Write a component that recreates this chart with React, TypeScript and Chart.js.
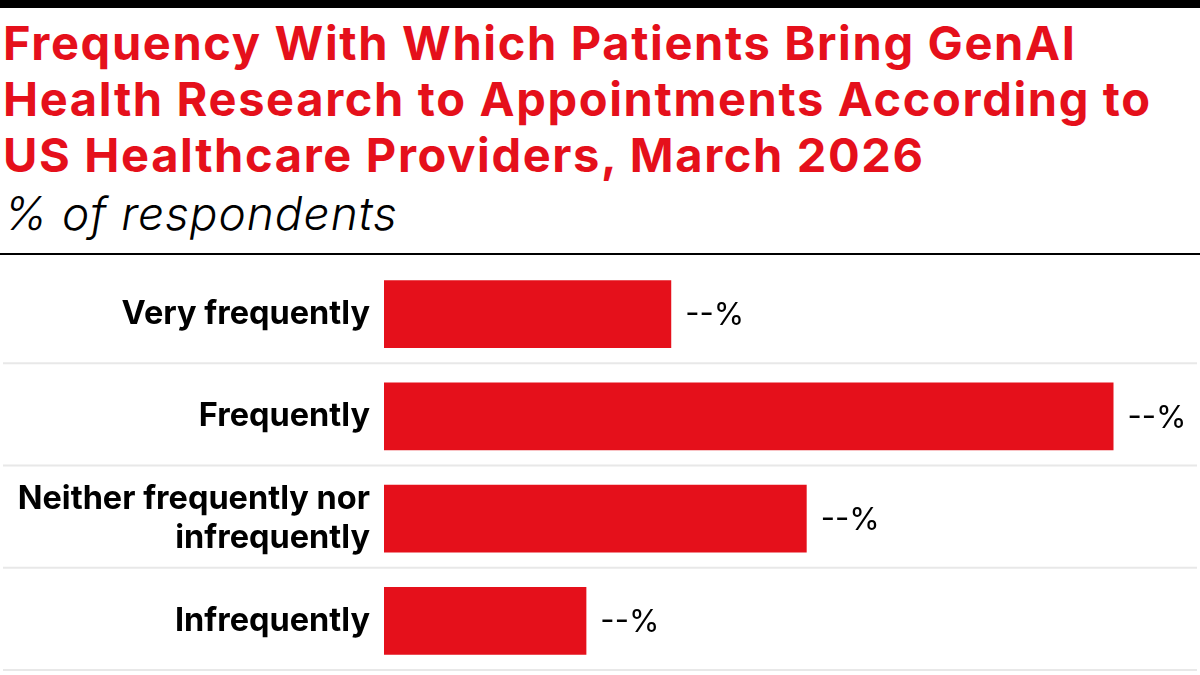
import React, { useEffect, useRef } from "react";
import { Chart, registerables } from "chart.js";
Chart.register(...registerables);

const categories: (string | string[])[] = [
  "Very frequently",
  "Frequently",
  ["Neither frequently nor", "infrequently"],
  "Infrequently",
];
const values = [17.6, 44.7, 25.9, 12.4];
const valueLabels = ["--%", "--%", "--%", "--%"];
const xMax = 50;

const titleLines = [
  "Frequency With Which Patients Bring GenAI",
  "Health Research to Appointments According to",
  "US Healthcare Providers, March 2026",
];
const subtitle = "% of respondents";

const RED = "#e5101b";
const FONT = "Inter, 'Noto Sans', sans-serif";

export default function App() {
  const ref = useRef<HTMLCanvasElement>(null);
  useEffect(() => {
    document.body.style.margin = "0";
    if (!ref.current) return;
    const sepPlugin = {
      id: "separators",
      afterDraw(chart: any) {
        const { ctx } = chart;
        const y = chart.scales.y;
        const n = categories.length;
        ctx.save();
        ctx.strokeStyle = "#e8e8e8";
        ctx.lineWidth = 2;
        for (let i = 0; i < n; i++) {
          const c = y.getPixelForValue(i);
          const next = i < n - 1 ? y.getPixelForValue(i + 1) : c + (c - y.getPixelForValue(i - 1));
          const yy = (c + next) / 2 - 2;
          ctx.beginPath();
          ctx.moveTo(3, yy);
          ctx.lineTo(1197, yy);
          ctx.stroke();
        }
        ctx.restore();
      },
    };
    const labelPlugin = {
      id: "valueLabels",
      afterDatasetsDraw(chart: any) {
        const { ctx } = chart;
        const meta = chart.getDatasetMeta(0);
        ctx.save();
        ctx.fillStyle = "#000";
        ctx.font = `400 31px ${FONT}`;
        ctx.textAlign = "left";
        ctx.textBaseline = "middle";
        meta.data.forEach((bar: any, i: number) => {
          ctx.fillText(valueLabels[i], bar.x + 14, bar.y + 2);
        });
        ctx.restore();
      },
    };
    const chart = new Chart(ref.current, {
      type: "bar",
      data: {
        labels: categories,
        datasets: [
          {
            data: values,
            backgroundColor: RED,
            borderWidth: 0,
            barPercentage: 0.665,
            categoryPercentage: 1,
          },
        ],
      },
      options: {
        indexAxis: "y",
        animation: false,
        responsive: false,
        maintainAspectRatio: false,
        layout: { padding: { top: 7, bottom: 3, left: 0, right: 0 } },
        plugins: { legend: { display: false }, tooltip: { enabled: false } },
        scales: {
          x: { display: false, min: 0, max: xMax },
          y: {
            grid: { display: false, drawTicks: false },
            border: { display: false },
            ticks: {
              color: "#000",
              padding: 14,
              font: { family: FONT, size: 32.5, weight: "bold", lineHeight: 1.22 },
            },
            afterFit: (scale: any) => {
              scale.width = 384;
              scale.paddingTop = 0;
              scale.paddingBottom = 0;
            },
          },
        },
      },
      plugins: [sepPlugin, labelPlugin],
    });
    return () => chart.destroy();
  }, []);

  return (
    <div style={{ position: "relative", width: 1200, height: 675, background: "#fff", overflow: "hidden" }}>
      <div style={{ position: "absolute", left: 0, top: 0, width: 1200, height: 8, background: "#000" }} />
      <div
        style={{
          position: "absolute",
          left: 3,
          top: 15,
          fontFamily: FONT,
          fontWeight: 700,
          fontSize: 47,
          letterSpacing: "1.65px",
          lineHeight: "56px",
          color: RED,
          whiteSpace: "nowrap",
        }}
      >
        {titleLines.map((l, i) => (
          <div key={i}>{l}</div>
        ))}
      </div>
      <div
        style={{
          position: "absolute",
          left: 4,
          top: 186,
          fontFamily: FONT,
          fontStyle: "italic",
          fontWeight: 300,
          fontSize: 46,
          letterSpacing: "1px",
          lineHeight: "54px",
          color: "#000",
          whiteSpace: "nowrap",
        }}
      >
        {subtitle}
      </div>
      <div style={{ position: "absolute", left: 0, top: 253, width: 1200, height: 2, background: "#000" }} />
      <canvas ref={ref} width={1200} height={419} style={{ position: "absolute", left: 0, top: 256 }} />
    </div>
  );
}
